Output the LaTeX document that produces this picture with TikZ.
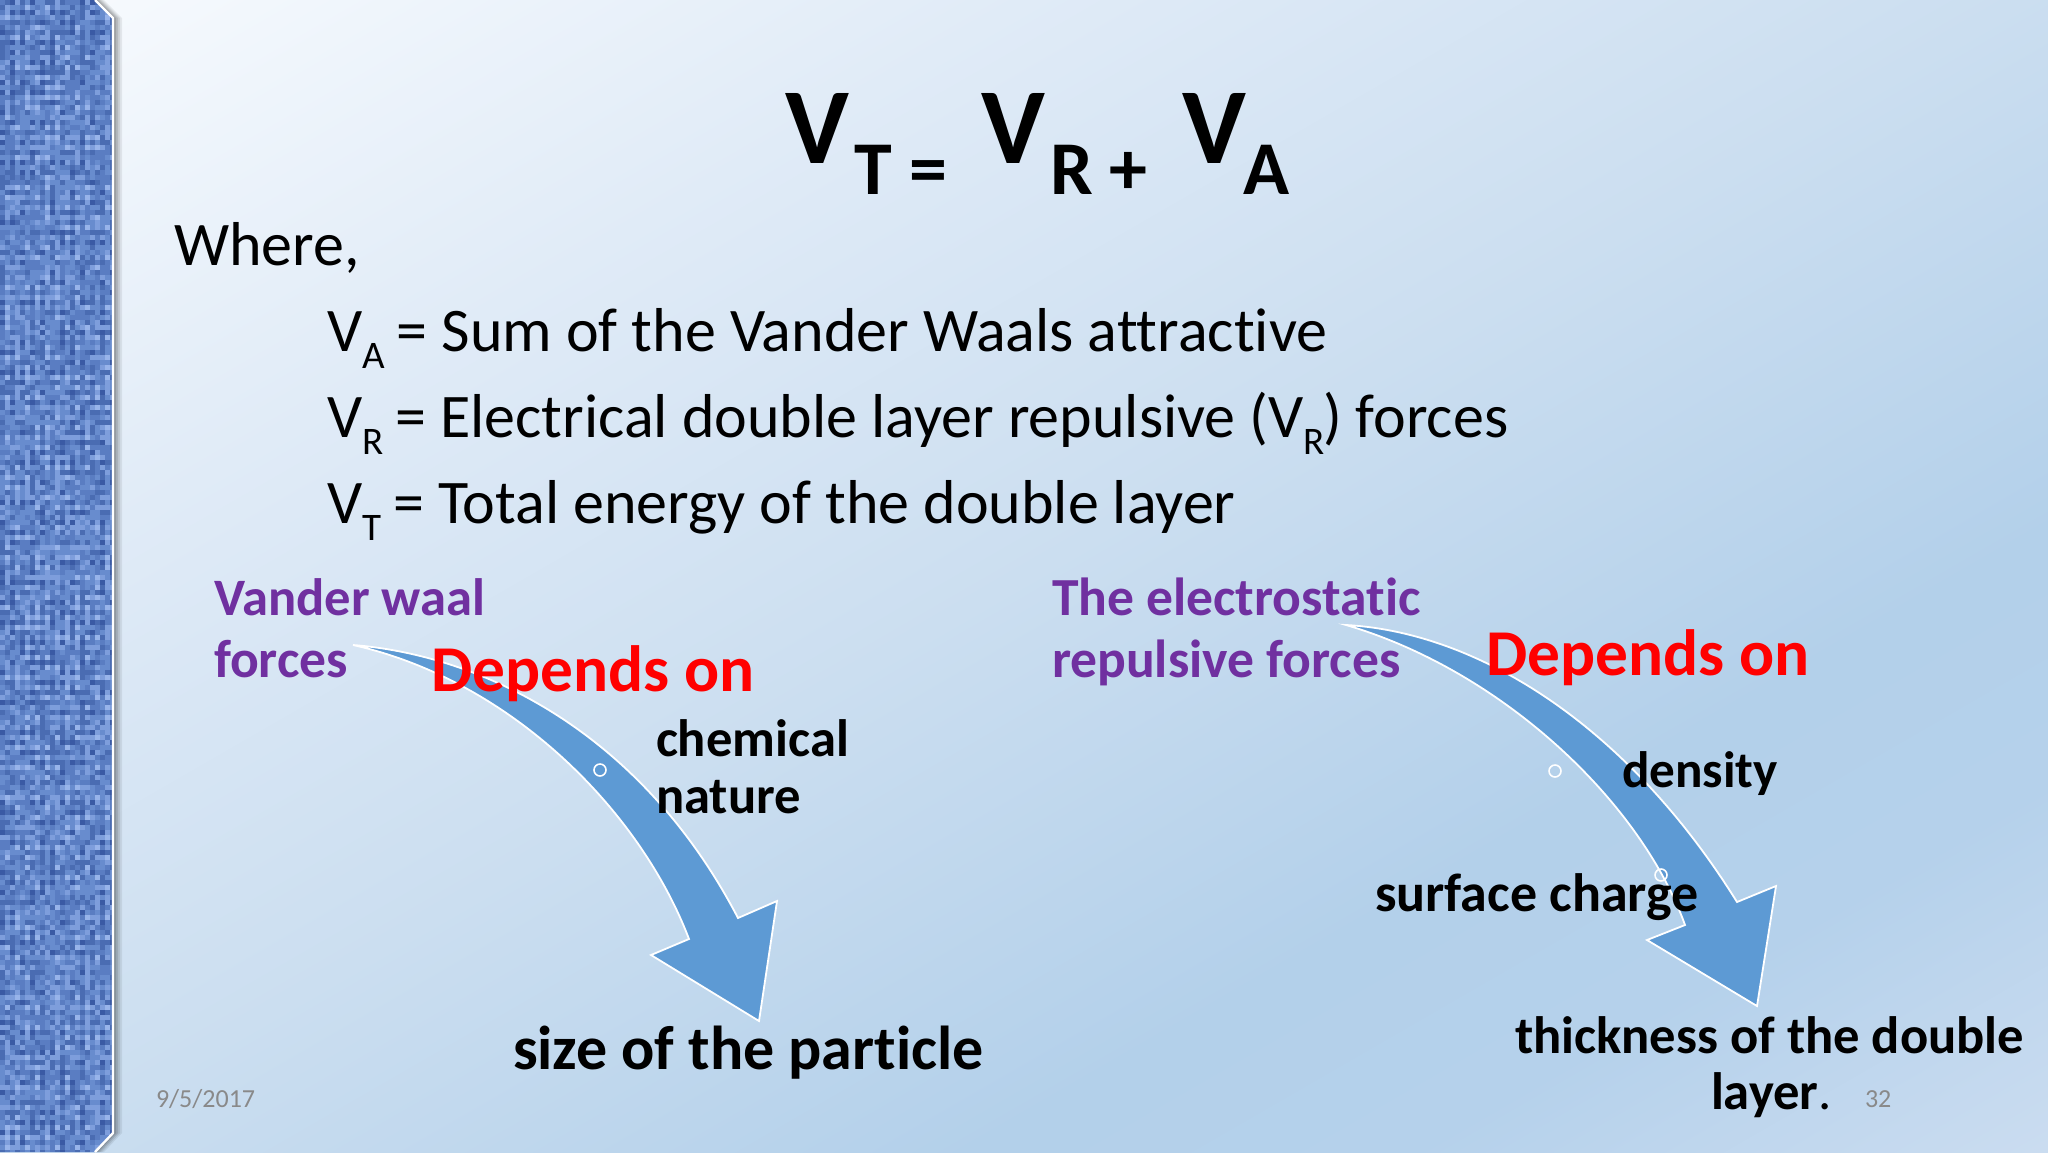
\documentclass[tikz,border=0pt]{standalone}
\usepackage{fontspec}
\setmainfont[Ligatures=CommonOff]{Carlito}
\definecolor{bga}{HTML}{F8FBFE}
\definecolor{bgb}{HTML}{E0EBF7}
\definecolor{bgc}{HTML}{CBDEF0}
\definecolor{bgd}{HTML}{B3D0EA}
\definecolor{bge}{HTML}{B5D1EB}
\definecolor{bgf}{HTML}{CADCF0}
\pgfdeclarehorizontalshading{bgsh}{100bp}{color(0bp)=(bga);color(25.3bp)=(bga);color(37.8bp)=(bgb);color(50bp)=(bgc);color(61.6bp)=(bgd);color(67bp)=(bge);color(74.7bp)=(bgf);color(100bp)=(bgf)}
\definecolor{band0}{HTML}{3A5AA4}
\definecolor{band1}{HTML}{4A6CB2}
\definecolor{band2}{HTML}{5A7DC2}
\definecolor{band3}{HTML}{688CCE}
\definecolor{band4}{HTML}{7E9EDC}
\definecolor{band5}{HTML}{98B4EA}
\definecolor{arrowblue}{HTML}{5D9AD4}
\definecolor{purpletxt}{HTML}{7030A0}
\definecolor{footgrey}{HTML}{898989}
\tikzset{
  lbl/.style={anchor=base west,inner sep=0pt,outer sep=0pt,align=left},
  body/.style={lbl,font=\fontsize{31}{34}\selectfont},
  titletxt/.style={lbl,font=\fontsize{54}{60}\selectfont\bfseries},
  purp/.style={lbl,text=purpletxt,font=\fontsize{26.3}{28}\selectfont\bfseries},
  purpwide/.style={lbl,text=purpletxt,font=\fontsize{26.8}{28}\selectfont\bfseries},
  dep/.style={lbl,text=red,font=\fontsize{32.7}{34}\selectfont\bfseries},
  blk/.style={lbl,font=\fontsize{26.3}{28}\selectfont\bfseries},
  big/.style={lbl,font=\fontsize{31}{32}\selectfont\bfseries},
  foot/.style={lbl,text=footgrey,font=\fontsize{13}{14}\selectfont},
  curved/.style={fill=arrowblue,draw=white,line width=0.9pt,line join=miter},
  dot/.style={circle,draw=white,line width=0.8pt,minimum size=6pt,inner sep=0pt}
}
\newcommand{\subA}[1]{\raisebox{-0.28em}{\fontsize{19.5}{21}\selectfont #1}\hspace{-1pt}}
\newcommand{\subT}[1]{\raisebox{-0.29em}{\fontsize{38}{40}\selectfont #1}}
\begin{document}
\begin{tikzpicture}[x=0.5pt,y=-0.5pt]
\useasboundingbox (0,0) rectangle (2048,1152);
\begin{scope}
  \clip (0,0) rectangle (2048,1152);
  \shade[shading=bgsh,shading angle=-60] (0,-448) rectangle (2048,1600);
\end{scope}
% shadow of the band
\foreach \w/\o in {9/0.07,7/0.09,5/0.11,3/0.13,1/0.15}{
  \fill[black,opacity=\o] (95,0) -- (95+\w,0) -- (113+\w,18) -- (113+\w,1133) -- (95+\w,1152) -- (95,1152) -- cycle;
}
% woven band
\begin{scope}
  \clip (0,0) -- (95,0) -- (113,18) -- (113,1133) -- (95,1152) -- (0,1152) -- cycle;
  \fill[band3] (0,0) rectangle (114,1152);
  \pgfmathsetseed{4242}
  \foreach \i in {0,...,22}{
    \foreach \j in {0,...,230}{
      \pgfmathsetmacro{\lv}{int(random(0,3)+mod(\i,2)+mod(\j,2))}
      \fill[band\lv] ({\i*5},{\j*5}) rectangle ({\i*5+5.3},{\j*5+5.3});
    }
  }
\end{scope}
\draw[white,line width=1.2pt] (95,0) -- (113,18) -- (113,1133) -- (95,1152);
% arrows
\draw[curved] (353,645) .. controls (480,655) and (640,730) .. (738,918)
  -- (777,901) -- (759,1021) -- (651,955) -- (689,939)
  .. controls (640,810) and (510,680) .. (353,645) -- cycle;
\node[dot] (dotA) at (600,770) {};
\draw[curved] (1346,625) .. controls (1475,632) and (1625,722) .. (1737,902)
  -- (1776,886) -- (1757,1006) -- (1647,940) -- (1685,925)
  .. controls (1640,800) and (1500,670) .. (1346,625) -- cycle;
\node[dot] (dotB) at (1555,771) {};
\node[dot] (dotC) at (1661,875) {};
% title
\node[titletxt] (title) at (785,163) {V\hspace{3pt}\subT{T\hspace{0.22em}=}\hspace{17.1pt}V\hspace{2.6pt}\subT{R\hspace{0.22em}+}\hspace{17.5pt}V\hspace{-1.3pt}\subT{A}};
% body
\node[body] (where) at (174,265) {Where,};
\node[body] (lineA) at (327,351) {V\subA{A} = Sum of the Vander Waals attractive};
\node[body] (lineR) at (327,437) {V\subA{R} = Electrical double layer repulsive (V\subA{R}) forces};
\node[body] (lineT) at (327,523) {V\subA{T} = Total energy of the double layer};
% left group
\node[purp] (vw1) at (214,615) {Vander waal};
\node[purpwide] (vw2) at (214,677) {forces};
\node[dep] (dep1) at (431,691) {Depends on};
\node[blk] (chem) at (656,756) {chemical};
\node[blk] (nat) at (656,813) {nature};
\node[big] (size) at (513,1069) {size of the particle};
% right group
\node[purpwide] (es1) at (1052,615) {The electrostatic};
\node[purpwide] (es2) at (1052,677) {repulsive forces};
\node[dep] (dep2) at (1486,675) {Depends on};
\node[blk,font=\fontsize{25.6}{28}\selectfont\bfseries] (dens) at (1622,787) {density};
\node[blk,font=\fontsize{27}{28}\selectfont\bfseries] (surf) at (1375,911) {surface charge};
\node[blk] (thick) at (1515,1053) {thickness of the double};
\node[blk] (lay) at (1711,1109) {layer{\mdseries .}};
% footer
\node[foot] (date) at (156,1107) {9/5/2017};
\node[foot] (num) at (1865,1107) {32};
\end{tikzpicture}
\end{document}
